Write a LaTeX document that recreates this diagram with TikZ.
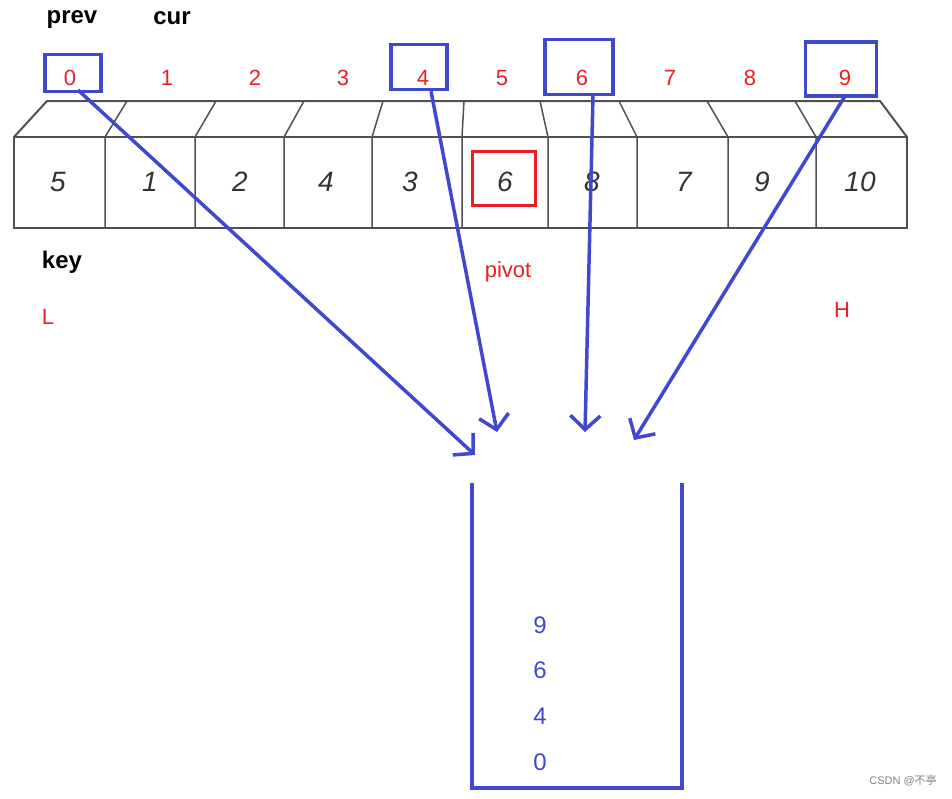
\documentclass[tikz,border=0pt]{standalone}
\usepackage{fontspec}
\setmainfont{Liberation Sans}
\newfontfamily\cjk{Noto Sans CJK SC}
\usetikzlibrary{arrows.meta}
\definecolor{bl}{RGB}{64,72,208}
\definecolor{rd}{RGB}{235,30,35}
\definecolor{gr}{RGB}{80,80,80}
\begin{document}
\begin{tikzpicture}[x=1pt,y=-1pt,
  idx/.style={text=rd,font=\fontsize{22}{24}\selectfont,inner sep=0},
  cell/.style={text=black!80,font=\fontsize{28}{30}\selectfont\itshape,inner sep=0},
  lab/.style={font=\fontsize{24}{26}\selectfont\bfseries,inner sep=0},
  bbox/.style={draw=bl,line width=3.5pt},
  arr/.style={draw=bl,line width=3.5pt,-{Straight Barb[length=14pt,width=30pt,line width=3.5pt]}},
  stk/.style={text=bl,font=\fontsize{24}{26}\selectfont,inner sep=0}]
\useasboundingbox (0,0) rectangle (952,798);
% array
\draw[gr,line width=2pt] (14,137) rectangle (907,228);
\draw[gr,line width=2pt] (14,137) -- (47,101) -- (880,101) -- (907,137);
\foreach \f/\b in {105/127,195/216,284/304,372/383,462/464,548/540,637/619,728/707,816/795}
  \draw[gr,line width=1.5pt] (\f,137) -- (\f,228) (\f,137) -- (\b,101);
\foreach \x/\v [count=\i] in {58/5,150/1,240/2,326/4,410/3,505/6,592/8,684/7,762/9,860/10}
  \node[cell] (c\i) at (\x,182) {\v};
\draw[rd,line width=3pt] (472,151) rectangle (535,205);
% indices
\foreach \x/\v in {70/0,167/1,255/2,343/3,423/4,502/5,582/6,670/7,750/8,845/9}
  \node[idx] (i\v) at (\x,78) {\v};
\node[bbox,minimum width=56pt,minimum height=37pt] (b0) at (73,73) {};
\node[bbox,minimum width=56pt,minimum height=45pt] (b4) at (419,67) {};
\node[bbox,minimum width=68pt,minimum height=55pt] (b6) at (579,67) {};
\node[bbox,minimum width=71pt,minimum height=54pt] (b9) at (841,69) {};
% labels
\node[lab] (prev) at (72,20) {prev};
\node[lab] (cur) at (172,18) {cur};
\node[lab] (key) at (62,262) {key};
\node[idx] (pivot) at (508,272) {pivot};
\node[idx] (L) at (48,317) {L};
\node[idx] (H) at (842,310) {H};
% stack
\coordinate (s1) at (472,483); \coordinate (s2) at (472,788);
\coordinate (s3) at (682,788); \coordinate (s4) at (682,483);
\draw[bl,line width=3.5pt] (s1) -- (s2) -- (s3) -- (s4);
\foreach \y/\v in {625/9,670/6,716/4,762/0} \node[stk] (n\v) at (540,\y) {\v};
% arrows
\coordinate (t0) at (475,455); \coordinate (t4) at (497,432);
\coordinate (t6) at (585,432); \coordinate (t9) at (634,440);
\draw[arr] (78,90) -- (t0);
\draw[arr] (b4.south) ++(12,0) -- (t4);
\draw[arr] (593,95) -- (t6);
\draw[arr] (845,96) -- (t9);
\node[text=gray,font=\fontsize{11}{12}\selectfont,inner sep=0] (wm) at (903,781) {CSDN @{\cjk 不亭}};
\end{tikzpicture}
\end{document}
